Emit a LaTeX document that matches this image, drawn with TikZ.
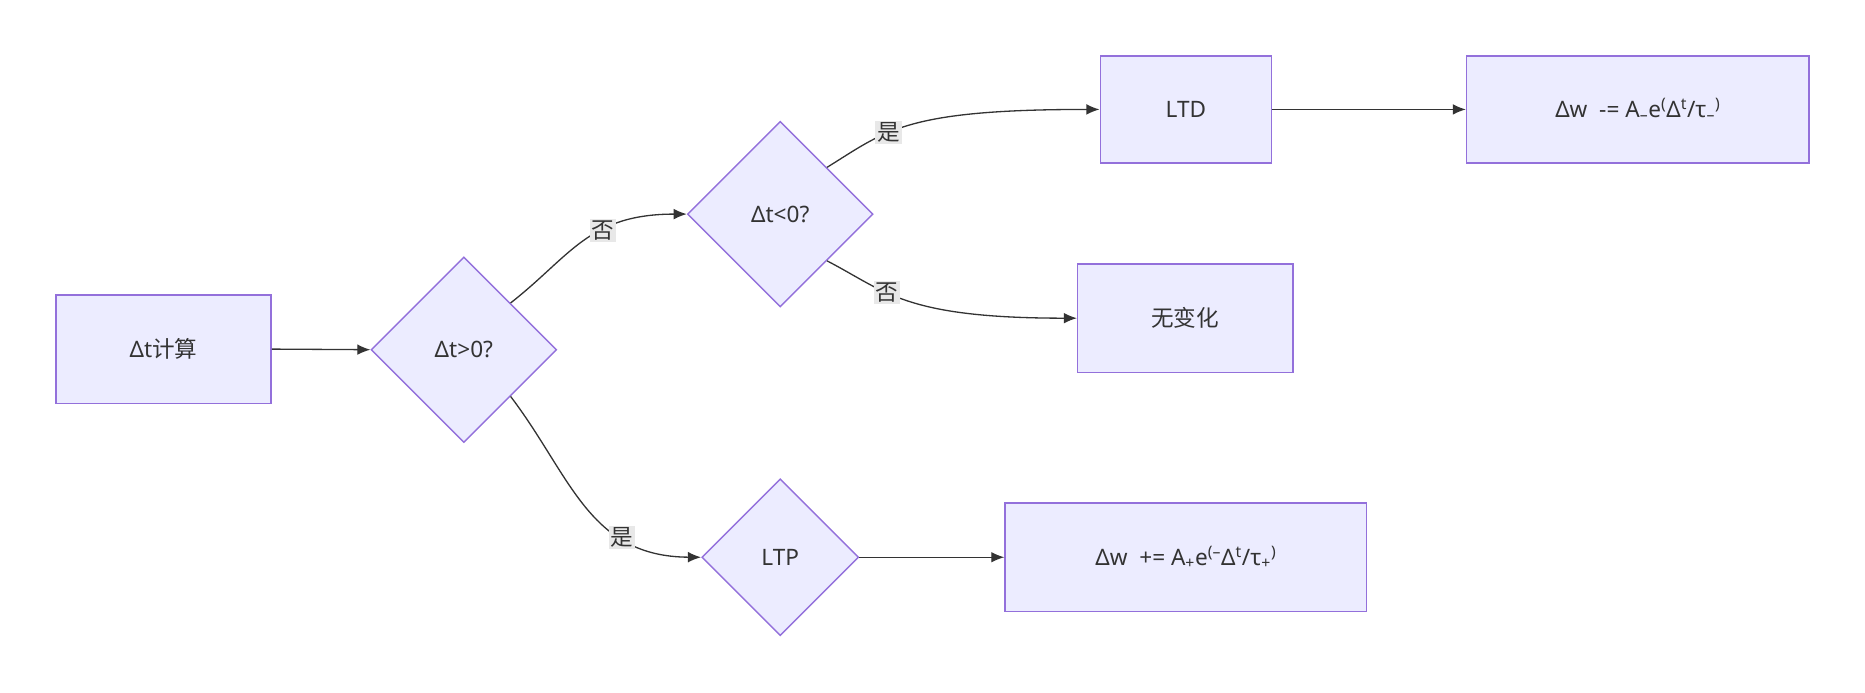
\documentclass[tikz,border=0pt]{standalone}
\usepackage{fontspec}
\setmainfont{Noto Sans}
\newfontfamily\cjk{Noto Sans CJK SC}
\usetikzlibrary{shapes.geometric,arrows.meta}
\definecolor{nodefill}{HTML}{ECECFF}
\definecolor{nodeline}{HTML}{9370DB}
\definecolor{edge}{HTML}{333333}
\definecolor{lblbg}{HTML}{E8E8E8}
\tikzset{
  box/.style={draw=nodeline,fill=nodefill,line width=1.2pt,font=\fontsize{19}{22}\selectfont,text=edge,inner sep=0pt},
  dia/.style={diamond,draw=nodeline,fill=nodefill,line width=1.2pt,font=\fontsize{19}{22}\selectfont,text=edge,inner sep=0pt,aspect=1},
  conn/.style={draw=edge,line width=1.1pt,-{Latex[length=11pt,width=9pt]}},
  lbl/.style={fill=lblbg,font=\cjk\fontsize{19}{22}\selectfont,text=edge,inner sep=1.5pt}
}
\newcommand{\sbx}[1]{\textsubscript{#1}}
\newcommand{\spx}[1]{\textsuperscript{#1}}
\begin{document}
\begin{tikzpicture}[x=1pt,y=-1pt]
\useasboundingbox (0,0) rectangle (1568,582);
\node[box,minimum width=181pt,minimum height=91pt] (calc) at (137.5,293.5) {Δt{\cjk 计算}};
\node[dia,minimum width=156pt,minimum height=156pt] (d1) at (390,294) {Δt>0?};
\node[dia,minimum width=156pt,minimum height=156pt] (d2) at (656,180) {Δt<0?};
\node[box,minimum width=144pt,minimum height=90pt] (ltd) at (997,92) {LTD};
\node[box,minimum width=288pt,minimum height=90pt] (fw1) at (1377,92) {Δw \ -= A\sbx{–}e\spx{(}Δ\spx{t}/τ\sbx{–}\spx{)}};
\node[box,minimum width=181pt,minimum height=91pt] (nc) at (996.5,267.5) {\cjk 无变化};
\node[dia,minimum width=132pt,minimum height=132pt] (ltp) at (656,468.5) {LTP};
\node[box,minimum width=304pt,minimum height=91pt] (fw2) at (997,468.5) {Δw \ += A\sbx{+}e\spx{(–}Δ\spx{t}/τ\sbx{+}\spx{)}};

\draw[conn] (calc.east) -- (d1.west);
\draw[conn] (d1.north east) .. controls (480,215) and (495,180) .. node[lbl,pos=0.62] {否} (d2.west);
\draw[conn] (d1.south east) .. controls (480,400) and (495,468) .. node[lbl,pos=0.7] {是} (ltp.west);
\draw[conn] (d2.north east) .. controls (745,110) and (760,92) .. node[lbl,pos=0.38] {是} (ltd.west);
\draw[conn] (d2.south east) .. controls (745,245) and (760,267.5) .. node[lbl,pos=0.38] {否} (nc.west);
\draw[conn] (ltd.east) -- (fw1.west);
\draw[conn] (ltp.east) -- (fw2.west);
\end{tikzpicture}
\end{document}
